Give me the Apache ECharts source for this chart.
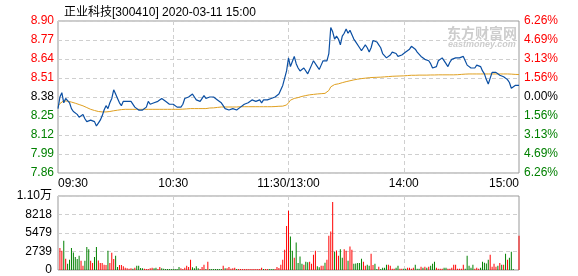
<!DOCTYPE html>
<html><head><meta charset="utf-8">
<script src="https://cdn.jsdelivr.net/npm/echarts@6/dist/echarts.min.js"></script>
<style>html,body{margin:0;padding:0;background:#fff}#c{width:578px;height:276px}</style>
</head><body><div id="c"></div>
<script>
// ---- data ----
const titleText = '正业科技[300410] 2020-03-11 15:00';
const prevClose = 8.38;
const pctStep = 1.565; // percent per grid step
const xTickLabels = ['09:30', '10:30', '11:30/13:00', '14:00', '15:00'];
const priceTickLabels = ['7.86', '7.99', '8.12', '8.25', '8.38', '8.51', '8.64', '8.77', '8.90'];
const pctTickLabels = ['6.26%', '4.69%', '3.13%', '1.56%', '0.00%', '1.56%', '3.13%', '4.69%', '6.26%'];
const volTickLabels = ['0', '2739', '5479', '8218', '1.10万'];
const volMax = 10957;

const price = [
8.30,8.38,8.41,8.34,8.37,8.36,8.34,8.30,8.28,8.27,
8.26,8.24,8.25,8.26,8.23,8.21,8.20,8.22,8.23,8.21,
8.18,8.20,8.22,8.25,8.29,8.32,8.30,8.34,8.37,8.43,
8.40,8.37,8.34,8.32,8.35,8.35,8.35,8.35,8.35,8.34,
8.31,8.30,8.29,8.30,8.29,8.29,8.31,8.35,8.33,8.34,
8.34,8.33,8.35,8.36,8.37,8.37,8.35,8.35,8.33,8.33,
8.33,8.32,8.31,8.31,8.31,8.33,8.37,8.38,8.38,8.39,
8.40,8.38,8.36,8.35,8.35,8.36,8.39,8.37,8.37,8.38,
8.37,8.38,8.37,8.36,8.35,8.34,8.32,8.30,8.29,8.29,
8.30,8.30,8.30,8.29,8.30,8.31,8.32,8.33,8.34,8.34,
8.35,8.36,8.35,8.35,8.35,8.36,8.34,8.36,8.37,8.36,
8.37,8.37,8.37,8.38,8.39,8.40,8.43,8.46,8.51,8.56,
8.65,8.59,8.60,8.66,8.61,8.58,8.56,8.55,8.58,8.57,
8.54,8.57,8.60,8.63,8.62,8.59,8.57,8.60,8.63,8.64,
8.63,8.68,8.86,8.83,8.78,8.80,8.78,8.74,8.80,8.82,
8.85,8.82,8.84,8.84,8.78,8.76,8.75,8.72,8.70,8.72,
8.74,8.72,8.69,8.72,8.77,8.76,8.76,8.74,8.72,8.68,
8.67,8.65,8.66,8.67,8.69,8.70,8.68,8.66,8.67,8.67,
8.68,8.69,8.70,8.71,8.73,8.74,8.71,8.69,8.68,8.66,
8.65,8.64,8.63,8.63,8.61,8.58,8.57,8.59,8.63,8.64,
8.65,8.64,8.61,8.59,8.62,8.64,8.64,8.65,8.65,8.65,
8.65,8.66,8.63,8.60,8.59,8.58,8.57,8.58,8.60,8.61,
8.59,8.56,8.54,8.50,8.47,8.51,8.55,8.55,8.55,8.54,
8.53,8.53,8.52,8.52,8.50,8.48,8.44,8.45,8.46,8.46,8.46
];

const avgPrice = [
8.316,8.335,8.348,8.354,8.354,8.351,8.348,8.345,8.341,8.337,
8.333,8.328,8.323,8.319,8.315,8.307,8.300,8.295,8.290,8.287,
8.283,8.280,8.278,8.277,8.277,8.277,8.278,8.280,8.283,8.285,
8.287,8.289,8.291,8.293,8.294,8.295,8.295,8.295,8.295,8.295,
8.295,8.295,8.295,8.295,8.295,8.295,8.295,8.295,8.295,8.295,
8.295,8.295,8.295,8.295,8.295,8.295,8.295,8.295,8.295,8.295,
8.295,8.295,8.295,8.295,8.295,8.296,8.297,8.298,8.300,8.300,
8.300,8.300,8.300,8.300,8.300,8.300,8.300,8.300,8.303,8.304,
8.304,8.305,8.306,8.308,8.310,8.311,8.311,8.311,8.311,8.311,
8.311,8.311,8.311,8.311,8.312,8.313,8.313,8.313,8.313,8.313,
8.313,8.313,8.313,8.313,8.313,8.313,8.313,8.313,8.313,8.313,
8.313,8.313,8.313,8.314,8.315,8.316,8.316,8.317,8.319,8.325,
8.340,8.358,8.365,8.370,8.373,8.376,8.380,8.384,8.387,8.390,
8.393,8.395,8.397,8.398,8.400,8.401,8.402,8.403,8.404,8.405,
8.407,8.425,8.450,8.462,8.466,8.468,8.471,8.475,8.479,8.482,
8.486,8.489,8.492,8.495,8.498,8.501,8.503,8.505,8.507,8.509,
8.510,8.512,8.513,8.514,8.515,8.515,8.516,8.516,8.517,8.518,
8.519,8.520,8.521,8.522,8.523,8.523,8.524,8.524,8.525,8.525,
8.526,8.527,8.528,8.529,8.530,8.530,8.530,8.530,8.531,8.531,
8.531,8.531,8.531,8.532,8.532,8.532,8.532,8.532,8.533,8.533,
8.533,8.533,8.533,8.533,8.533,8.533,8.533,8.533,8.534,8.535,
8.536,8.537,8.538,8.538,8.539,8.539,8.539,8.539,8.539,8.539,
8.539,8.539,8.539,8.539,8.539,8.539,8.539,8.539,8.539,8.539,
8.539,8.539,8.539,8.539,8.539,8.539,8.538,8.537,8.536,8.536,8.535
];

const volume = [
0,3240,2850,4320,1670,930,1520,3240,2600,1915,
1620,2110,1375,640,1375,3390,3090,1375,1030,1915,
3390,1425,1030,1030,785,740,2850,1030,2550,1620,
2110,440,740,740,540,340,245,200,245,200,
340,640,640,300,245,200,150,150,245,340,
245,340,150,440,245,200,150,150,150,150,
150,150,150,440,245,150,340,640,440,1520,
390,245,540,245,150,440,785,150,1230,150,
150,150,150,150,150,150,640,245,245,440,
200,245,340,150,150,150,150,150,150,150,
150,150,150,150,150,150,340,150,150,150,
150,150,150,150,440,300,785,1520,3000,6530,
8790,4960,2850,1820,4080,1030,2010,930,785,1230,
1130,1230,930,2260,2850,540,390,640,640,1080,
1520,5060,5700,10070,2700,2900,2110,3090,1820,3090,
2850,1375,3490,3000,930,980,1030,1030,1670,1230,
640,785,640,2400,740,930,150,490,150,340,
340,785,785,640,200,200,340,640,200,200,
200,200,340,340,200,340,785,200,200,490,
340,490,340,490,640,930,1230,340,200,200,
200,340,340,200,200,340,785,785,200,200,
200,785,200,2110,640,340,785,200,340,200,
340,1230,1080,980,1520,2260,490,930,490,640,
1030,785,785,2400,1520,1820,2700,150,0,0,5060
];

// r = up (red), g = down (green), as coloured in the reference (minute 0 first, then 10 per group)
const volDir = ('r' +
'rrgrgggggg' + 'grrgggrrgg' + 'rrrrrgrrrg' + 'grrrrrrrgr' +
'ggggrrrrrg' + 'grrggggggg' + 'gggrrrrrrg' + 'gggrrrgrgg' +
'gggggrgrrr' + 'rrgrrrrrrr' + 'rrrrrrgrrg' + 'ggrrrrrrrr' +
'ggrggggrgg' + 'rrrrggrrgr' + 'rrrgrrggrr' + 'grrgggggrr' +
'ggrrggrggg' + 'grrrrggrrg' + 'grrrrgggrg' + 'rgrgggrrrr' +
'ggrrrrrrrr' + 'rggggg' + 'rrrg' + 'ggggrrrrgr' + 'grgrgggggr'
).split('');

// ---- build ----
const minutes = [];
for (let h = 9, m = 30; minutes.length < 121; ) {
  minutes.push(String(h).padStart(2, '0') + ':' + String(m).padStart(2, '0'));
  m++; if (m === 60) { m = 0; h++; }
}
for (let h = 13, m = 1; minutes.length < 241; ) {
  minutes.push(String(h).padStart(2, '0') + ':' + String(m).padStart(2, '0'));
  m++; if (m === 60) { m = 0; h++; }
}

const toStep = p => (p / prevClose - 1) * 100 / pctStep + 4;
const RED = '#ff0000', GREEN = '#008000', BLACK = '#000000';
const tickColor = (i) => i > 4 ? RED : (i < 4 ? GREEN : BLACK);
const FONT = '"Liberation Sans", Arial, "Noto Sans CJK SC", sans-serif';

const chart = echarts.init(document.getElementById('c'), null, { renderer: 'canvas' });
chart.setOption({
  animation: false,
  backgroundColor: '#ffffff',
  textStyle: { fontFamily: FONT },
  title: {
    text: titleText, left: 59, top: 2,
    textStyle: { fontSize: 12, fontWeight: 'normal', color: '#000', fontFamily: FONT }
  },
  graphic: [
    { type: 'text', left: 447, top: 26, z: 0, silent: true,
      style: { text: '东方财富网', fill: '#cdcdcd', font: 'bold 14px "Noto Sans CJK SC", sans-serif' } },
    { type: 'text', left: 448, top: 40, z: 0, silent: true,
      style: { text: 'eastmoney.com', fill: '#cdcdcd', font: 'italic bold 9px "Liberation Sans", Arial, sans-serif' } }
  ],
  grid: [
    { left: 58, right: 59, top: 21, height: 152, show: true, borderColor: '#999', borderWidth: 1, backgroundColor: 'transparent' },
    { left: 58, right: 59, top: 196, height: 74, show: true, borderColor: '#999', borderWidth: 1, backgroundColor: 'transparent' }
  ],
  xAxis: [
    {
      type: 'category', gridIndex: 0, data: minutes, boundaryGap: false,
      axisLine: { show: false }, axisTick: { show: false },
      axisLabel: {
        interval: (i) => i % 60 === 0,
        formatter: (v, i) => xTickLabels[Math.round(i / 60)],
        fontSize: 12, color: '#000', margin: 5, fontFamily: FONT,
        alignMinLabel: 'left', alignMaxLabel: 'right'
      },
      splitLine: { show: true, interval: (i) => i % 60 === 0 && i > 0 && i < 240,
        lineStyle: { color: '#cfcfcf', type: [4, 3], width: 1 } }
    },
    {
      type: 'category', gridIndex: 1, data: minutes, boundaryGap: false,
      axisLine: { show: false }, axisTick: { show: false }, axisLabel: { show: false },
      splitLine: { show: true, interval: (i) => i % 60 === 0 && i > 0 && i < 240,
        lineStyle: { color: '#cfcfcf', type: [4, 3], width: 1 } }
    }
  ],
  yAxis: [
    {
      type: 'value', gridIndex: 0, min: 0, max: 8, interval: 1, position: 'left',
      axisLine: { show: false }, axisTick: { show: false },
      axisLabel: { formatter: (v) => priceTickLabels[Math.round(v)], color: (v) => tickColor(Math.round(v)),
        fontSize: 12, margin: 4, fontFamily: FONT },
      splitLine: { show: true, lineStyle: { color: '#cfcfcf', type: [4, 3], width: 1 } }
    },
    {
      type: 'value', gridIndex: 0, min: 0, max: 8, interval: 1, position: 'right',
      axisLine: { show: false }, axisTick: { show: false },
      axisLabel: { formatter: (v) => pctTickLabels[Math.round(v)], color: (v) => tickColor(Math.round(v)),
        fontSize: 12, margin: 5, fontFamily: FONT },
      splitLine: { show: false }
    },
    {
      type: 'value', gridIndex: 1, min: 0, max: volMax, interval: volMax / 4, position: 'left',
      axisLine: { show: false }, axisTick: { show: false },
      axisLabel: { formatter: (v) => volTickLabels[Math.round(v / (volMax / 4))], color: '#000',
        fontSize: 12, margin: 6, fontFamily: FONT },
      splitLine: { show: true, lineStyle: { color: '#cfcfcf', type: [4, 3], width: 1 } }
    }
  ],
  series: [
    {
      type: 'line', xAxisIndex: 0, yAxisIndex: 0, data: avgPrice.map(toStep),
      symbol: 'none', lineStyle: { color: '#e0a020', width: 1 }, z: 3
    },
    {
      type: 'line', xAxisIndex: 0, yAxisIndex: 0, data: price.map(toStep),
      symbol: 'none', lineStyle: { color: '#0b4fa3', width: 1.2 }, z: 4
    },
    {
      type: 'bar', xAxisIndex: 1, yAxisIndex: 2, barWidth: 1,
      data: volume.map((v, i) => ({ value: v, itemStyle: { color: volDir[i] === 'g' ? GREEN : RED } }))
    }
  ]
});
</script>
</body></html>
